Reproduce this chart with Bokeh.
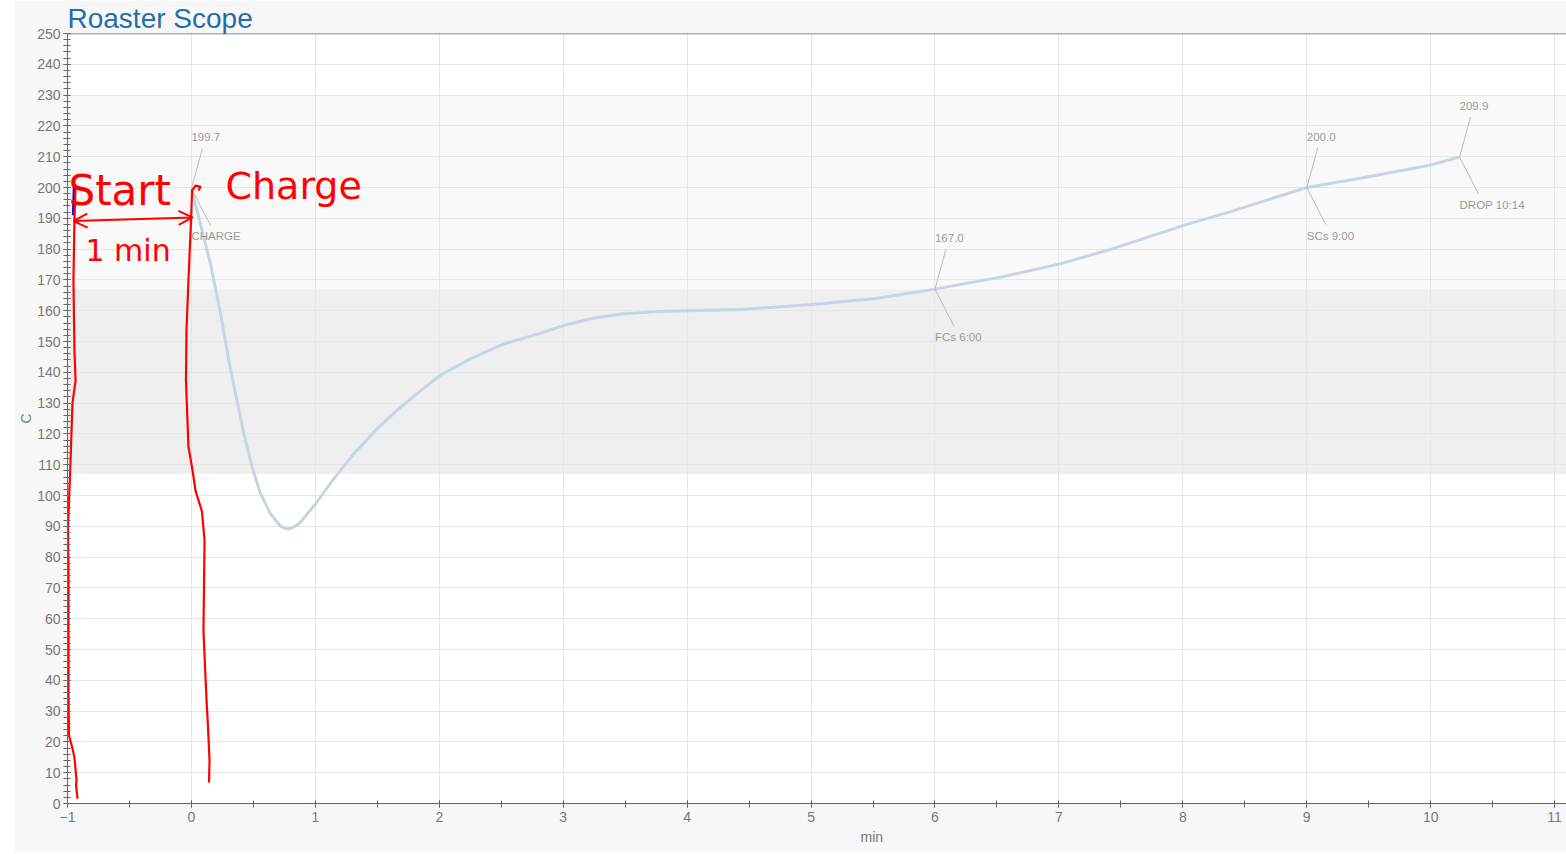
from bokeh.plotting import figure
from bokeh.layouts import row
from bokeh.models import (Range1d, SingleIntervalTicker, BoxAnnotation, Label, Span, Title,
                          Arrow, OpenHead, ColumnDataSource, Spacer)
from bokeh.core.properties import value
from bokeh.embed import file_html
from bokeh.resources import INLINE

# ---------------- data ----------------
bt_time = [0, 0.154, 0.235, 0.302, 0.356, 0.423, 0.490, 0.557, 0.638, 0.690, 0.719, 0.755, 0.786,
           0.830, 0.880, 1.001, 1.149, 1.310, 1.499, 1.687, 2.005, 2.252, 2.521, 2.817, 3.005, 3.220,
           3.489, 3.759, 4.009, 4.431, 5.009, 5.507, 6.0, 6.529, 7.008, 7.417, 8.008, 8.412, 9.0,
           9.5, 10.0, 10.233]
bt_temp = [199.7, 175.2, 159.0, 143.8, 133.0, 120.0, 109.2, 100.6, 94.1, 91.4, 90.0, 89.4, 89.2,
           89.8, 91.3, 97.3, 105.4, 113.5, 121.7, 128.7, 139.0, 144.4, 149.2, 152.7, 155.2, 157.4,
           159.0, 159.7, 160.0, 160.4, 162.0, 163.9, 167.0, 170.9, 175.2, 179.9, 187.7, 192.5, 200.0,
           203.5, 207.3, 209.9]

event_time = [0.0, 6.0, 9.0, 10.233]
event_temp = [199.7, 167.0, 200.0, 209.9]
event_name = ["CHARGE", "FCs 6:00", "SCs 9:00", "DROP 10:14"]

band_dark = (107, 167)
band_light = (167, 230)

# hand-drawn red markup
mark_left_t = [-0.935, -0.944, -0.952, -0.944, -0.935, -0.960, -0.976, -0.996, -0.992, -0.992,
               -0.988, -0.960, -0.944, -0.927, -0.931, -0.919]
mark_left_y = [200.3, 189.3, 169.8, 147.1, 137.3, 129.9, 110.4, 89.6, 72.4, 36.7,
               22.1, 17.9, 14.9, 7.5, 5.8, 1.6]
mark_right_t = [0.057, 0.073, 0.033, 0.005, -0.003, -0.024, -0.040, -0.044, -0.024, 0.009,
                0.033, 0.085, 0.106, 0.102, 0.097, 0.122, 0.134, 0.146, 0.142]
mark_right_y = [199.0, 200.2, 200.6, 199.0, 189.3, 169.8, 153.6, 137.3, 115.9, 108.1,
                101.6, 94.8, 85.4, 72.4, 56.2, 33.4, 24.7, 14.0, 6.8]
mark_blue_t = [-0.947, -0.955]
mark_blue_y = [200.6, 191.0]
mark_arrow = (-0.952, 189.1, 0.009, 190.3)
mark_texts = ["Start", "Charge", "1 min"]
mark_text_t = [-0.992, 0.275, -0.855]
mark_text_y = [199.0, 200.6, 179.5]
mark_text_size = ["42px", "38px", "30px"]

# ---------------- figure ----------------
LEFT_GAP = 14
W, H = 1566 - LEFT_GAP, 852
BORDER_LEFT = 53
X_END = 11.096
PX_X = (W - BORDER_LEFT) / (X_END + 1)    # px per minute
PX_Y = 770 / 250                          # px per degree
FONT = "Liberation Sans"

p = figure(width=W, height=H, output_backend="svg", toolbar_location=None,
           x_range=Range1d(-1, X_END), y_range=Range1d(0, 250),
           min_border_left=BORDER_LEFT, min_border_right=0, min_border_top=33, min_border_bottom=49)
p.border_fill_color = "#f7f7f7"
p.background_fill_color = "white"
p.outline_line_color = None

p.title.text = "Roaster Scope"
p.title.text_font = FONT
p.title.text_font_size = "28px"
p.title.text_font_style = "normal"
p.title.text_color = "#1f6fab"
p.title.align = "left"
p.title.standoff = 0
p.title.offset = 0

p.add_layout(BoxAnnotation(bottom=band_light[0], top=band_light[1], fill_color="#f9f9f9",
                           fill_alpha=1, line_color=None, level="image"))
p.add_layout(BoxAnnotation(bottom=band_dark[0], top=band_dark[1], fill_color="#efefef",
                           fill_alpha=1, line_color=None, level="image"))

p.xaxis.ticker = SingleIntervalTicker(interval=1, num_minor_ticks=2)
p.yaxis.ticker = SingleIntervalTicker(interval=10, num_minor_ticks=5)
for ax in (p.xaxis[0], p.yaxis[0]):
    ax.axis_line_color = "#666666"
    ax.major_tick_line_color = "#666666"
    ax.minor_tick_line_color = "#666666"
    ax.major_tick_in = 3
    ax.major_tick_out = 4
    ax.minor_tick_in = 3
    ax.minor_tick_out = 4
    ax.major_label_text_font = FONT
    ax.major_label_text_font_size = "14px"
    ax.major_label_text_color = "#777777"
p.xaxis.major_label_standoff = 4
p.yaxis.major_label_standoff = 3
p.yaxis.axis_label = "C"
p.yaxis.axis_label_text_font = FONT
p.yaxis.axis_label_text_font_size = "14px"
p.yaxis.axis_label_text_font_style = "normal"
p.yaxis.axis_label_text_color = "#777777"
p.yaxis.axis_label_standoff = 0

# x-axis label, positioned like the reference
p.add_layout(Title(text="min", align="left", offset=871 - LEFT_GAP - BORDER_LEFT - 11, standoff=5,
                   text_font=FONT, text_font_size="14px", text_font_style="normal",
                   text_color="#777777"), "below")

p.xgrid.grid_line_color = "#e6e6e6"
p.ygrid.grid_line_color = "#e6e6e6"

p.add_layout(Span(location=250, dimension="width", line_color="#666666", line_width=1.5))

# curve
p.line(bt_time, bt_temp, line_color="#c4d6e1", line_width=3, line_join="round")

# event annotations
src = ColumnDataSource(dict(
    t=event_time, y=event_temp, name=event_name,
    val=[f"{v:.1f}" for v in event_temp],
    tu=[t + 11 / PX_X for t in event_time], yu=[v + 40 / PX_Y for v in event_temp],
    td=[t + 19 / PX_X for t in event_time], yd=[v - 37 / PX_Y for v in event_temp],
))
p.segment(x0="t", y0="y", x1="tu", y1="yu", source=src, line_color="#bbbbbb", line_width=1)
p.segment(x0="t", y0="y", x1="td", y1="yd", source=src, line_color="#bbbbbb", line_width=1)
p.text(x="t", y="y", text="val", source=src, y_offset=-51, text_baseline="alphabetic",
       text_align="left", text_font=value(FONT), text_font_size="11.5px", text_color="#999999")
p.text(x="t", y="y", text="name", source=src, y_offset=48, text_baseline="alphabetic",
       text_align="left", text_font=value(FONT), text_font_size="11.5px", text_color="#999999")

# red markup
p.line(mark_blue_t, mark_blue_y, line_color="#1010ee", line_width=2.5)
p.line(mark_left_t, mark_left_y, line_color="#ff0000", line_width=2.2, line_join="round")
p.line(mark_right_t, mark_right_y, line_color="#ff0000", line_width=2.2, line_join="round")
p.add_layout(Arrow(x_start=mark_arrow[0], y_start=mark_arrow[1], x_end=mark_arrow[2], y_end=mark_arrow[3],
                   line_color="#ff0000", line_width=2,
                   start=OpenHead(size=14, line_color="#ff0000", line_width=2),
                   end=OpenHead(size=14, line_color="#ff0000", line_width=2)))
for txt, tx, ty, fs in zip(mark_texts, mark_text_t, mark_text_y, mark_text_size):
    p.add_layout(Label(x=tx, y=ty, text=txt, text_color="#ff0000", text_font="DejaVu Sans",
                       text_font_size=fs, text_baseline="alphabetic", text_align="left"))

layout = row(Spacer(width=LEFT_GAP, height=H), p)
open("out.html", "w").write(file_html(layout, INLINE))
